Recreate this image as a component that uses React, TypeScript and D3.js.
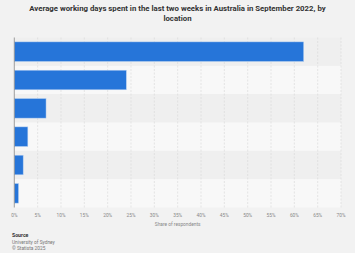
import * as d3 from "d3";

const WIDTH = 355;
const HEIGHT = 253;
const MARGIN = { top: 37.5, right: 14, bottom: 45.5, left: 14.3 };

const locations = ["Employer's workplace", "Home", "Client's site", "Other location", "On the road", "Co-working space"];
const shares = [62, 24, 6.8, 2.9, 1.9, 0.9];
const ticks = [0, 5, 10, 15, 20, 25, 30, 35, 40, 45, 50, 55, 60, 65, 70];

const FONT = "Roboto, 'Liberation Sans', Arial, sans-serif";

export default function App() {
  const boundsWidth = WIDTH - MARGIN.left - MARGIN.right;
  const boundsHeight = HEIGHT - MARGIN.top - MARGIN.bottom;

  const xScale = d3.scaleLinear().domain([0, 70]).range([0, boundsWidth]);
  const yScale = d3
    .scaleBand<string>()
    .domain(locations)
    .range([0, boundsHeight])
    .paddingInner(0)
    .paddingOuter(0);
  const barH = yScale.bandwidth() * 0.69;

  // alternating row stripes
  const stripes = locations.map((loc, i) => (
    <rect
      key={loc}
      x={0}
      y={yScale(loc)}
      width={boundsWidth}
      height={yScale.bandwidth()}
      fill={i % 2 === 0 ? "#efefef" : "#f8f8f8"}
    />
  ));

  const grid = ticks.map((t) => (
    <g key={t} transform={`translate(${xScale(t)},0)`}>
      {t > 0 && (
        <line
          y1={0}
          y2={boundsHeight}
          stroke="#d6d6d6"
          strokeWidth={0.6}
          strokeDasharray="2,1.5"
        />
      )}
      <text
        y={boundsHeight + 9}
        textAnchor="middle"
        fontSize={4.8}
        fill="#888"
        fontFamily={FONT}
      >
        {t}%
      </text>
    </g>
  ));

  const bars = locations.map((loc, i) => (
    <rect
      key={loc}
      x={0}
      y={(yScale(loc) ?? 0) + (yScale.bandwidth() - barH) / 2}
      width={xScale(shares[i])}
      height={barH}
      fill="#2675d9"
      stroke="#b5cff0"
      strokeWidth={0.5}
    />
  ));

  return (
    <svg
      width={WIDTH}
      height={HEIGHT}
      style={{ position: "absolute", left: 0, top: 0, background: "#f2f2f2" }}
    >
      <rect width={WIDTH} height={HEIGHT} fill="#f2f2f2" />
      <text
        x={WIDTH / 2}
        y={11}
        textAnchor="middle"
        fontSize={7.8}
        fontWeight="bold"
        fill="#333"
        fontFamily={FONT}
      >
        <tspan x={WIDTH / 2} dy={0}>
          Average working days spent in the last two weeks in Australia in September 2022, by
        </tspan>
        <tspan x={WIDTH / 2} dy={10}>
          location
        </tspan>
      </text>
      <g transform={`translate(${MARGIN.left},${MARGIN.top})`}>
        {stripes}
        {grid}
        {bars}
        <line x1={0} x2={0} y1={0} y2={boundsHeight} stroke="#888" strokeWidth={0.8} />
        <text
          x={boundsWidth / 2}
          y={boundsHeight + 18}
          textAnchor="middle"
          fontSize={4.8}
          fill="#888"
          fontFamily={FONT}
        >
          Share of respondents
        </text>
      </g>
      <text x={12} y={237} fontSize={5.2} fontWeight="bold" fill="#333" fontFamily={FONT}>
        Source
      </text>
      <text x={12} y={243.5} fontSize={4.8} fill="#777" fontFamily={FONT}>
        University of Sydney
      </text>
      <text x={12} y={250} fontSize={4.8} fill="#777" fontFamily={FONT}>
        © Statista 2025
      </text>
    </svg>
  );
}
